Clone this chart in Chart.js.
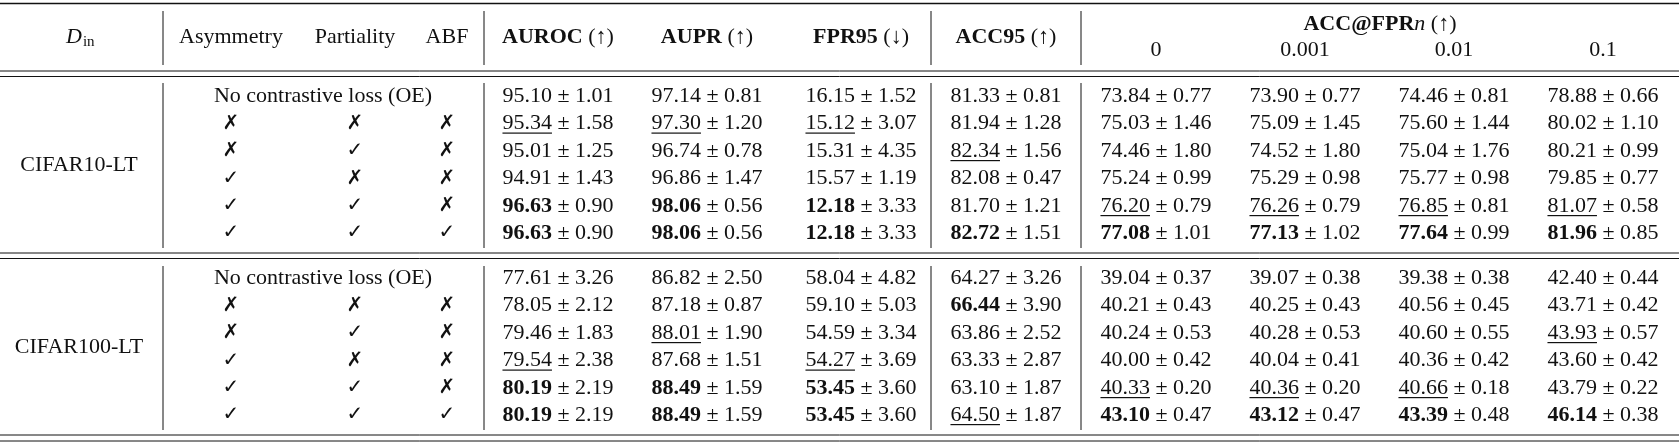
<!DOCTYPE html>
<html>
<head>
<meta charset="utf-8">
<script src="https://cdn.jsdelivr.net/npm/chart.js@4/dist/chart.umd.min.js"></script>
<style>
  body { margin: 0; background: #fff; }
  canvas { display: block; }
</style>
</head>
<body>
<canvas id="table" width="1679" height="446"></canvas>
<script>
// table data
const datasets = ['CIFAR10-LT', 'CIFAR100-LT'];
const metricNames = ['AUROC', 'AUPR', 'FPR95', 'ACC95', '0', '0.001', '0.01', '0.1'];
// per row: [asymmetry, partiality, abf], null = baseline row
const flags = [null, [0, 0, 0], [0, 1, 0], [1, 0, 0], [1, 1, 0], [1, 1, 1]];

const cifar10Mean = [
    [95.10, 97.14, 16.15, 81.33, 73.84, 73.90, 74.46, 78.88],
    [95.34, 97.30, 15.12, 81.94, 75.03, 75.09, 75.60, 80.02],
    [95.01, 96.74, 15.31, 82.34, 74.46, 74.52, 75.04, 80.21],
    [94.91, 96.86, 15.57, 82.08, 75.24, 75.29, 75.77, 79.85],
    [96.63, 98.06, 12.18, 81.70, 76.20, 76.26, 76.85, 81.07],
    [96.63, 98.06, 12.18, 82.72, 77.08, 77.13, 77.64, 81.96]
];
const cifar10Std = [
    [1.01, 0.81, 1.52, 0.81, 0.77, 0.77, 0.81, 0.66],
    [1.58, 1.20, 3.07, 1.28, 1.46, 1.45, 1.44, 1.10],
    [1.25, 0.78, 4.35, 1.56, 1.80, 1.80, 1.76, 0.99],
    [1.43, 1.47, 1.19, 0.47, 0.99, 0.98, 0.98, 0.77],
    [0.90, 0.56, 3.33, 1.21, 0.79, 0.79, 0.81, 0.58],
    [0.90, 0.56, 3.33, 1.51, 1.01, 1.02, 0.99, 0.85]
];
const cifar10Style = [
    '........',
    'uuu.....',
    '...u....',
    '........',
    'bbb.uuuu',
    'bbbbbbbb'
];

const cifar100Mean = [
    [77.61, 86.82, 58.04, 64.27, 39.04, 39.07, 39.38, 42.40],
    [78.05, 87.18, 59.10, 66.44, 40.21, 40.25, 40.56, 43.71],
    [79.46, 88.01, 54.59, 63.86, 40.24, 40.28, 40.60, 43.93],
    [79.54, 87.68, 54.27, 63.33, 40.00, 40.04, 40.36, 43.60],
    [80.19, 88.49, 53.45, 63.10, 40.33, 40.36, 40.66, 43.79],
    [80.19, 88.49, 53.45, 64.50, 43.10, 43.12, 43.39, 46.14]
];
const cifar100Std = [
    [3.26, 2.50, 4.82, 3.26, 0.37, 0.38, 0.38, 0.44],
    [2.12, 0.87, 5.03, 3.90, 0.43, 0.43, 0.45, 0.42],
    [1.83, 1.90, 3.34, 2.52, 0.53, 0.53, 0.55, 0.57],
    [2.38, 1.51, 3.69, 2.87, 0.42, 0.41, 0.42, 0.42],
    [2.19, 1.59, 3.60, 1.87, 0.20, 0.20, 0.18, 0.22],
    [2.19, 1.59, 3.60, 1.87, 0.47, 0.47, 0.48, 0.38]
];
const cifar100Style = [
    '........',
    '...b....',
    '.u.....u',
    'u.u.....',
    'bbb.uuu.',
    'bbbubbbb'
];

const sections = [
    { name: datasets[0], mean: cifar10Mean, std: cifar10Std, style: cifar10Style },
    { name: datasets[1], mean: cifar100Mean, std: cifar100Std, style: cifar100Style }
];

// layout (pixels)
const W = 1679, H = 446;
const metricX = [558, 707, 861, 1006, 1156, 1305, 1454, 1603];
const flagX = [231, 355, 447];
const sectionRowY = [[96, 123.5, 151, 178.5, 206, 233], [278, 305.5, 333, 360.5, 388, 415]];
const vLines = [163, 484, 931, 1081];
const SERIF = '"Liberation Serif", "Times New Roman", serif';
const FS = 22;

function font(w, s) { return (s || '') + ' ' + (w || '') + ' ' + FS + 'px ' + SERIF; }

function drawParts(ctx, parts, cx, cy) {
    let total = 0;
    parts.forEach(p => { ctx.font = p.font; p.w = ctx.measureText(p.t).width; total += p.w; });
    let x = cx - total / 2;
    parts.forEach(p => {
        ctx.font = p.font;
        ctx.fillText(p.t, x, cy);
        if (p.u) {
            ctx.fillRect(x, cy + 9, p.w, 1.2);
        }
        x += p.w;
    });
}

const tablePlugin = {
    id: 'tablePlugin',
    afterDraw(chart) {
        const ctx = chart.ctx;
        const xs = chart.scales.x, ys = chart.scales.y;
        const px = v => xs.getPixelForValue(v);
        const py = v => ys.getPixelForValue(v);
        ctx.save();
        ctx.fillStyle = '#111';
        ctx.strokeStyle = '#111';
        ctx.textBaseline = 'middle';

        const hline = (y, lw) => { ctx.lineWidth = lw; ctx.beginPath(); ctx.moveTo(px(0), py(y)); ctx.lineTo(px(W), py(y)); ctx.stroke(); };
        const vline = (x, y0, y1) => { ctx.lineWidth = 1; ctx.beginPath(); ctx.moveTo(px(x), py(y0)); ctx.lineTo(px(x), py(y1)); ctx.stroke(); };

        hline(3.5, 1.6);
        hline(71, 1); hline(76.5, 1);
        hline(253, 1); hline(258.5, 1);
        hline(435, 1); hline(441, 1);
        vLines.forEach(x => vline(x, 11, 65));
        vLines.forEach(x => { vline(x, 83, 248); vline(x, 266, 430); });

        // header
        ctx.font = font('', 'italic');
        const dw = ctx.measureText('D').width;
        ctx.fillText('D', px(79) - dw / 2 - 5, py(37));
        ctx.font = '15px ' + SERIF;
        ctx.fillText('in', px(79) - dw / 2 + dw - 4, py(42));
        ['Asymmetry', 'Partiality', 'ABF'].forEach((t, i) => drawParts(ctx, [{ t, font: font() }], px(flagX[i]), py(37)));
        const arrows = ['(↑)', '(↑)', '(↓)', '(↑)'];
        metricNames.slice(0, 4).forEach((m, i) => drawParts(ctx, [
            { t: m, font: font('bold') }, { t: ' ' + arrows[i], font: font() }
        ], px(metricX[i]), py(37)));
        drawParts(ctx, [
            { t: 'ACC@FPR', font: font('bold') }, { t: 'n', font: font('', 'italic') }, { t: ' (↑)', font: font() }
        ], px(1380), py(24));
        metricNames.slice(4).forEach((m, i) => drawParts(ctx, [{ t: m, font: font() }], px(metricX[4 + i]), py(50)));

        // body
        sections.forEach((s, si) => {
            const rows = sectionRowY[si];
            drawParts(ctx, [{ t: s.name, font: font() }], px(79), py((rows[2] + rows[3]) / 2));
            flags.forEach((f, r) => {
                const y = py(rows[r]);
                if (!f) {
                    drawParts(ctx, [{ t: 'No contrastive loss (OE)', font: font() }], px(323), y);
                } else {
                    f.forEach((v, k) => drawParts(ctx, [{ t: v ? '✓' : '✗', font: '20px "DejaVu Sans"' }], px(flagX[k]), y));
                }
                s.mean[r].forEach((m, c) => {
                    const st = s.style[r][c];
                    drawParts(ctx, [
                        { t: m.toFixed(2), font: font(st === 'b' ? 'bold' : ''), u: st === 'u' },
                        { t: ' ± ' + s.std[r][c].toFixed(2), font: font() }
                    ], px(metricX[c]), y);
                });
            });
        });
        ctx.restore();
    }
};

new Chart(document.getElementById('table').getContext('2d'), {
    type: 'scatter',
    data: { datasets: [{ data: [] }] },
    options: {
        responsive: false,
        animation: false,
        layout: { padding: 0 },
        scales: {
            x: { type: 'linear', min: 0, max: W, display: false },
            y: { type: 'linear', min: 0, max: H, reverse: true, display: false }
        },
        plugins: { legend: { display: false }, tooltip: { enabled: false } }
    },
    plugins: [tablePlugin]
});
</script>
</body>
</html>
